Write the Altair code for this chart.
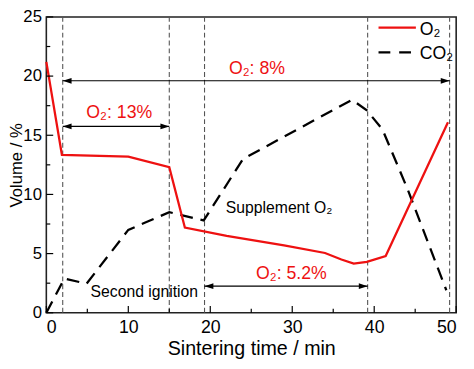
import altair as alt
import pandas as pd

# ---- data ----
o2_time = [0, 1.9, 10, 15, 16.9, 22, 29, 34, 36, 37.5, 39.1, 41.4, 49]
o2_vol = [21.2, 13.35, 13.2, 12.3, 7.2, 6.5, 5.7, 5.05, 4.5, 4.15, 4.3, 4.8, 16.1]

co2_time = [0, 2.2, 4.9, 10, 12, 15, 19.2, 24, 37.3, 39.1, 41, 44.1, 48.8]
co2_vol = [0, 2.9, 2.45, 7.0, 7.6, 8.5, 7.8, 13.0, 18.0, 17.1, 15.5, 10.4, 1.9]

vline_x = [2, 15, 19.3, 39.2, 49.2]

arrow_y = [19.6, 15.75, 2.25]
arrow_x1 = [2, 2, 19.3]
arrow_x2 = [49.2, 15, 39.2]

red_text = ["O₂: 8%", "O₂: 13%", "O₂: 5.2%"]
red_text_x = [25.7, 8.9, 29.9]
red_text_y = [20.2, 16.5, 2.85]

black_text = ["Supplement O₂", "Second ignition"]
black_text_x = [21.9, 5.4]
black_text_y = [8.4, 1.36]

x_ticks_major = [0, 10, 20, 30, 40, 50]
x_ticks_minor = [5, 15, 25, 35, 45]
y_ticks_major = [0, 5, 10, 15, 20, 25]
y_ticks_minor = [2.5, 7.5, 12.5, 17.5, 22.5]

legend_labels = ["O₂", "CO₂"]

RED = "#ee1111"
FONT = "Liberation Sans"
W, H = 417, 301

xs = alt.Scale(domain=[0, 50], nice=False, zero=False)
ys = alt.Scale(domain=[0, 25], nice=False, zero=False)

df_o2 = pd.DataFrame({"t": o2_time, "v": o2_vol})
df_co2 = pd.DataFrame({"t": co2_time, "v": co2_vol})
df_vl = pd.DataFrame({"x": vline_x})
df_arr = pd.DataFrame({"y": arrow_y, "x1": arrow_x1, "x2": arrow_x2})
df_heads = pd.DataFrame({
    "x": arrow_x1 + arrow_x2,
    "y": arrow_y + arrow_y,
    "d": ["L"] * len(arrow_x1) + ["R"] * len(arrow_x2),
})
df_red = pd.DataFrame({"x": red_text_x, "y": red_text_y, "t": red_text})
df_black = pd.DataFrame({"x": black_text_x, "y": black_text_y, "t": black_text})
df_one = pd.DataFrame({"a": [0]})

X = alt.X("t:Q", scale=xs,
          axis=alt.Axis(values=x_ticks_major, title="Sintering time / min",
                        titleY=42, titleBaseline="alphabetic"))
Y = alt.Y("v:Q", scale=ys,
          axis=alt.Axis(values=y_ticks_major, title="Volume / %",
                        labelFontSize=17, labelPadding=5,
                        titleX=-25, titleY=H / 2, titleBaseline="alphabetic",
                        titleFontSize=17))

o2_line = alt.Chart(df_o2).mark_line(color=RED, strokeWidth=2.3).encode(x=X, y=Y)
co2_line = alt.Chart(df_co2).mark_line(
    color="black", strokeWidth=2.3, strokeDash=[13, 8]).encode(x="t:Q", y="v:Q")

vlines = alt.Chart(df_vl).mark_rule(
    color="#555555", strokeWidth=1.1, strokeDash=[5, 3]).encode(x="x:Q")

shafts = alt.Chart(df_arr).mark_rule(color="black", strokeWidth=1.1).encode(
    x="x1:Q", x2="x2:Q", y="y:Q")

left_head = "M0,0L1,-0.32L1,0.32Z"
right_head = "M0,0L-1,-0.32L-1,0.32Z"
heads = alt.Chart(df_heads).mark_point(
    filled=True, color="black", opacity=1, size=324, strokeWidth=0).encode(
    x="x:Q", y="y:Q",
    shape=alt.Shape("d:N", scale=alt.Scale(domain=["L", "R"], range=[left_head, right_head]),
                    legend=None))

red_labels = alt.Chart(df_red).mark_text(
    color=RED, font=FONT, fontSize=18, align="center", baseline="alphabetic").encode(
    x="x:Q", y="y:Q", text="t:N")
black_labels = alt.Chart(df_black).mark_text(
    color="black", font=FONT, fontSize=16, align="left", baseline="alphabetic").encode(
    x="x:Q", y="y:Q", text="t:N")

yt_major = alt.Chart(pd.DataFrame({"v": y_ticks_major})).mark_rule(
    color="black", strokeWidth=1.2).encode(y="v:Q", x=alt.value(0), x2=alt.value(7))
yt_minor = alt.Chart(pd.DataFrame({"v": y_ticks_minor})).mark_rule(
    color="black", strokeWidth=1.2).encode(y="v:Q", x=alt.value(0), x2=alt.value(4))
xt_major = alt.Chart(pd.DataFrame({"v": x_ticks_major})).mark_rule(
    color="black", strokeWidth=1.2).encode(x="v:Q", y=alt.value(H), y2=alt.value(H - 7))
xt_minor = alt.Chart(pd.DataFrame({"v": x_ticks_minor})).mark_rule(
    color="black", strokeWidth=1.2).encode(x="v:Q", y=alt.value(H), y2=alt.value(H - 4))

leg_o2 = alt.Chart(df_one).mark_rule(color=RED, strokeWidth=2.3).encode(
    x=alt.value(338), x2=alt.value(376), y=alt.value(11))
leg_co2 = alt.Chart(df_one).mark_rule(color="black", strokeWidth=2.3, strokeDash=[12, 9]).encode(
    x=alt.value(338), x2=alt.value(376), y=alt.value(36))
leg_t1 = alt.Chart(df_one).mark_text(
    font=FONT, fontSize=18, align="left", baseline="alphabetic", color="black",
    text=legend_labels[0]).encode(x=alt.value(380), y=alt.value(18))
leg_t2 = alt.Chart(df_one).mark_text(
    font=FONT, fontSize=18, align="left", baseline="alphabetic", color="black",
    text=legend_labels[1]).encode(x=alt.value(380), y=alt.value(43))

chart = alt.layer(
    vlines, shafts, heads, co2_line, o2_line, red_labels, black_labels,
    yt_major, yt_minor, xt_major, xt_minor, leg_o2, leg_co2, leg_t1, leg_t2,
).properties(
    width=W, height=H,
    autosize=alt.AutoSizeParams(type="none"),
    padding={"left": 39, "top": 6, "right": 10, "bottom": 46},
).configure_view(
    stroke="#222222", strokeWidth=1.6
).configure_axis(
    labelFont=FONT, labelFontSize=18, labelColor="black", labelPadding=6,
    titleFont=FONT, titleFontSize=20, titleFontWeight="normal", titleColor="black",
    ticks=False, domain=False, grid=False,
)

chart.save("out.html", embed_options={"renderer": "svg", "actions": False})
